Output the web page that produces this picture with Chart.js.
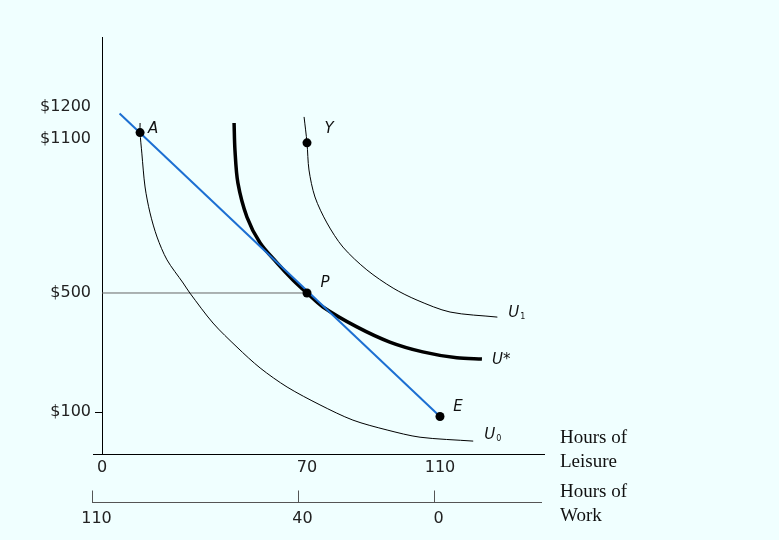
<!DOCTYPE html>
<html>
<head>
<meta charset="utf-8">
<title>Hours of leisure and income</title>
<script src="https://cdn.jsdelivr.net/npm/chart.js@4.4.1/dist/chart.umd.min.js"></script>
<style>
  html, body { margin: 0; padding: 0; background: #f0ffff; }
  #wrap { position: relative; width: 779px; height: 540px; }
</style>
</head>
<body>
<div id="wrap"><canvas id="chartLeisure"></canvas></div>
<script>
// ticks
const leisureTicks = [0, 70, 110]
const leisureTickLabels = ['0', '70', '110']
const workTicks = [110, 40, 0]
const workTickLabels = ['110', '40', '0']
const incomeTicks = [100, 500, 1100, 1200]
const incomeTickLabels = ['$100', '$500', '$1100', '$1200']

// named points
const pointNames = ['A', 'Y', 'P', 'E']
const pointLeisure = [13, 70, 70, 110]
const pointIncome = [1120, 1085, 500, 85]

// budget line and the $500 guide
const budgetLeisure = [6, 110]
const budgetIncome = [1180, 85]
const guideLeisure = [0, 70]
const guideIncome = [500, 500]

// indifference curves
const u0Leisure = [13, 13, 13.6, 14.7, 16.4, 18.8, 22.2, 27.7, 30, 37.9, 46.1, 54, 63.2, 73.9, 83.8, 94.1, 104, 119.9]
const u0Income = [1150, 1120, 1045, 913, 812, 718, 629, 539, 500, 399, 318, 248, 184, 124, 73, 40, 16, 3]
const uStarLeisure = [45.1, 45.4, 46.4, 49.5, 54, 59.8, 65.2, 70, 74.8, 85, 94.9, 104.8, 115, 122.5]
const uStarIncome = [1150, 1057, 929, 796, 695, 617, 551, 500, 453, 386, 335, 302, 282, 278]
const u1Leisure = [69, 70, 70.6, 72.4, 76, 80.8, 88, 95.9, 103.1, 113, 127.1]
const u1Income = [1169, 1085, 979, 874, 773, 679, 590, 519, 476, 436, 419]

// the drawing is schematic: axes are stretched piecewise, [value, fraction of axis]
const axisWarp = {
  x: [[0, 0], [70, 0.4638], [110, 0.7647], [141, 1]],
  y: [[-40, 0], [100, 0.1007], [500, 0.3861], [1100, 0.7554], [1200, 0.8321], [1420, 1]],
  x2: [[0, 0.7511], [40, 0.4434], [110, -0.0226]],
}

function warp(knots, v) {
  let i = 1
  while (i < knots.length - 1 && v > knots[i][0]) i++
  const [v0, f0] = knots[i - 1]
  const [v1, f1] = knots[i]
  return f0 + (v - v0) * (f1 - f0) / (v1 - v0)
}

function unwarp(knots, f) {
  for (let i = 1; i < knots.length; i++) {
    const [v0, f0] = knots[i - 1]
    const [v1, f1] = knots[i]
    if ((f - f0) * (f - f1) <= 0 || i === knots.length - 1) {
      return v0 + (f - f0) * (v1 - v0) / (f1 - f0)
    }
  }
}

class WarpScale extends Chart.LinearScale {
  static id = 'warp'
  getPixelForValue(value) {
    if (value === null || value === undefined) return NaN
    return this.getPixelForDecimal(warp(axisWarp[this.id], value))
  }
  getValueForPixel(pixel) {
    return unwarp(axisWarp[this.id], this.getDecimalForPixel(pixel))
  }
}
Chart.register(WarpScale)

Chart.defaults.font.family = '"DejaVu Sans", Verdana, sans-serif'

const toPoints = (xs, ys) => xs.map((x, i) => ({ x, y: ys[i] }))

const labelOffsets = { A: [13, -3], Y: [22, -14], P: [18, -10], E: [18, -9] }
const curveLabels = [
  { name: 'U', sub: '0', xs: u0Leisure, ys: u0Income, dx: 11, dy: -6 },
  { name: 'U', sub: '1', xs: u1Leisure, ys: u1Income, dx: 11, dy: -4 },
  { name: 'U*', sub: '', xs: uStarLeisure, ys: uStarIncome, dx: 10, dy: 1 },
]

const diagramText = {
  id: 'diagramText',
  beforeDraw(chart) {
    const ctx = chart.ctx
    ctx.save()
    ctx.fillStyle = '#f0ffff'
    ctx.fillRect(0, 0, chart.width, chart.height)
    ctx.restore()
  },
  afterDraw(chart) {
    const { ctx, chartArea } = chart
    const { x, y, x2 } = chart.scales
    ctx.save()

    // leisure axis runs a little past the income axis
    ctx.strokeStyle = '#000'
    ctx.lineWidth = 1
    ctx.beginPath()
    ctx.moveTo(chartArea.left - 9, Math.floor(chartArea.bottom) + 0.5)
    ctx.lineTo(chartArea.left, Math.floor(chartArea.bottom) + 0.5)
    ctx.stroke()

    // point names
    ctx.fillStyle = '#111'
    ctx.font = 'italic 15px "DejaVu Sans"'
    ctx.textAlign = 'center'
    ctx.textBaseline = 'middle'
    pointNames.forEach((name, i) => {
      const [dx, dy] = labelOffsets[name]
      ctx.fillText(name, x.getPixelForValue(pointLeisure[i]) + dx, y.getPixelForValue(pointIncome[i]) + dy)
    })

    // curve names at the right end of each curve
    ctx.textAlign = 'left'
    curveLabels.forEach(c => {
      const n = c.xs.length - 1
      const px = x.getPixelForValue(c.xs[n]) + c.dx
      const py = y.getPixelForValue(c.ys[n]) + c.dy
      ctx.font = 'italic 15px "DejaVu Sans"'
      ctx.textBaseline = 'middle'
      ctx.fillText(c.name, px, py)
      if (c.sub) {
        const w = ctx.measureText(c.name).width
        ctx.font = '8px "DejaVu Sans"'
        ctx.textBaseline = 'alphabetic'
        ctx.fillText(c.sub, px + w + 1, py + 5.5)
      }
    })

    // hours of work axis, read right to left
    const lineY = Math.floor(chartArea.bottom + 48) + 0.5
    ctx.strokeStyle = '#555'
    ctx.beginPath()
    ctx.moveTo(x2.getPixelForValue(110), lineY)
    ctx.lineTo(chartArea.right - 2, lineY)
    ctx.stroke()
    ctx.font = '16px "DejaVu Sans"'
    ctx.fillStyle = '#222'
    ctx.textAlign = 'center'
    ctx.textBaseline = 'middle'
    workTicks.forEach((w, i) => {
      const px = Math.round(x2.getPixelForValue(w)) + 0.5
      ctx.beginPath()
      ctx.moveTo(px, lineY - 12)
      ctx.lineTo(px, lineY)
      ctx.stroke()
      ctx.fillText(workTickLabels[i], px + 4, lineY + 16)
    })

    // axis titles
    ctx.font = '19px "Liberation Serif", "Times New Roman", serif'
    ctx.fillStyle = '#111'
    ctx.textAlign = 'left'
    const tx = chartArea.right + 16
    ctx.fillText('Hours of', tx, chartArea.bottom - 16)
    ctx.fillText('Leisure', tx, chartArea.bottom + 8)
    ctx.fillText('Hours of', tx, lineY - 10)
    ctx.fillText('Work', tx, lineY + 14)

    ctx.restore()
  },
}

const ctx = document.getElementById('chartLeisure').getContext('2d')

const chart = new Chart(ctx, {
  type: 'line',
  data: {
    datasets: [
      {
        label: 'Points',
        data: toPoints(pointLeisure, pointIncome),
        showLine: false,
        pointRadius: 4.5,
        pointBackgroundColor: '#000',
        pointBorderColor: '#000',
        pointBorderWidth: 0,
      },
      {
        label: 'Budget line',
        data: toPoints(budgetLeisure, budgetIncome),
        borderColor: '#1c6fd2',
        borderWidth: 2,
        pointRadius: 0,
      },
      {
        label: 'U*',
        data: toPoints(uStarLeisure, uStarIncome),
        borderColor: '#000',
        borderWidth: 3.5,
        tension: 0.3,
        pointRadius: 0,
      },
      {
        label: 'U1',
        data: toPoints(u1Leisure, u1Income),
        borderColor: '#000',
        borderWidth: 1,
        tension: 0.3,
        pointRadius: 0,
      },
      {
        label: 'U0',
        data: toPoints(u0Leisure, u0Income),
        borderColor: '#000',
        borderWidth: 1,
        tension: 0.3,
        pointRadius: 0,
      },
      {
        label: '$500 guide',
        data: toPoints(guideLeisure, guideIncome),
        borderColor: '#666',
        borderWidth: 1,
        pointRadius: 0,
      },
    ],
  },
  options: {
    responsive: true,
    maintainAspectRatio: false,
    animation: false,
    events: [],
    layout: { padding: { top: 37, right: 235, bottom: 56, left: 0 } },
    plugins: {
      legend: { display: false },
      tooltip: { enabled: false },
    },
    scales: {
      x: {
        type: 'warp',
        min: 0,
        max: 141,
        afterBuildTicks: s => { s.ticks = leisureTicks.map(v => ({ value: v })) },
        afterFit: s => { s.height = 30 },
        border: { display: true, color: '#000', width: 1 },
        grid: { display: false },
        ticks: {
          callback: (v, i) => leisureTickLabels[i],
          color: '#222',
          font: { size: 16 },
          padding: -4,
          maxRotation: 0,
          autoSkip: false,
        },
      },
      x2: {
        type: 'warp',
        axis: 'x',
        position: 'bottom',
        display: false,
        min: 0,
        max: 110,
      },
      y: {
        type: 'warp',
        min: -40,
        max: 1420,
        afterBuildTicks: s => { s.ticks = incomeTicks.map(v => ({ value: v })) },
        afterFit: s => { s.width = 102 },
        border: { display: true, color: '#000', width: 1 },
        grid: {
          display: true,
          drawOnChartArea: false,
          drawTicks: true,
          tickLength: 7,
          tickColor: c => (c.tick && c.tick.value === 100 ? '#000' : 'rgba(0,0,0,0)'),
        },
        ticks: {
          callback: (v, i) => incomeTickLabels[i],
          color: '#222',
          font: { size: 16 },
          padding: 4,
          autoSkip: false,
        },
      },
    },
  },
  plugins: [diagramText],
})
</script>
</body>
</html>
